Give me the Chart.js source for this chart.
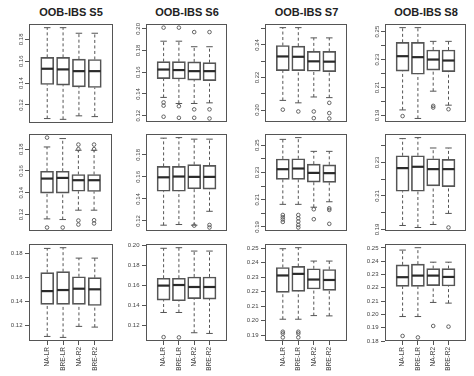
<!DOCTYPE html>
<html>
<head>
<meta charset="utf-8">
<script src="https://cdn.jsdelivr.net/npm/chart.js@4.4.1/dist/chart.umd.min.js"></script>
<style>
  body { margin: 0; background: #fff; width: 474px; height: 376px; overflow: hidden; position: relative; font-family: 'Liberation Sans', Arial, sans-serif; }
  canvas { position: absolute; }
  .ttl { position: absolute; top: 6px; font-weight: bold; font-size: 11px; color: #222; text-align: center; white-space: nowrap; }
</style>
</head>
<body>
<script>
const methods = ['NA-LR', 'BRE-LR', 'NA-R2', 'BRE-R2'];
const scenarios = ['OOB-IBS S5', 'OOB-IBS S6', 'OOB-IBS S7', 'OOB-IBS S8'];

// each box: [lower whisker, q1, median, q3, upper whisker]
const r1S5 = [[0.1075, 0.1387, 0.1531, 0.1635, 0.1907], [0.1068, 0.1381, 0.1525, 0.1635, 0.1907], [0.1100, 0.1365, 0.1509, 0.1619, 0.1856], [0.1093, 0.1359, 0.1509, 0.1616, 0.1856]];
const r1S5Out = [[], [], [], []];
const r1S6 = [[0.1368, 0.1541, 0.1625, 0.1698, 0.1886], [0.1312, 0.1538, 0.1620, 0.1698, 0.1886], [0.1312, 0.1528, 0.1610, 0.1695, 0.1835], [0.1318, 0.1522, 0.1610, 0.1688, 0.1835]];
const r1S6Out = [[0.2011, 0.1322, 0.1292, 0.1190], [0.2011, 0.1287, 0.1180], [0.1970, 0.1258, 0.1180], [0.1970, 0.1258, 0.1174]];
const r1S7 = [[0.2059, 0.2242, 0.2329, 0.2396, 0.2506], [0.2044, 0.2242, 0.2327, 0.2392, 0.2506], [0.2080, 0.2238, 0.2299, 0.2360, 0.2443], [0.2076, 0.2236, 0.2297, 0.2360, 0.2443]];
const r1S7Out = [[0.2002], [0.1991], [0.1991, 0.1950], [0.2044, 0.1981, 0.1948]];
const r1S8 = [[0.1940, 0.2217, 0.2324, 0.2423, 0.2528], [0.1879, 0.2195, 0.2317, 0.2423, 0.2528], [0.2074, 0.2224, 0.2300, 0.2368, 0.2430], [0.1974, 0.2214, 0.2293, 0.2368, 0.2430]];
const r1S8Out = [[0.1896], [], [0.1969, 0.1957], [0.1945]];

const r2S5 = [[0.1160, 0.1396, 0.1530, 0.1597, 0.1820], [0.1154, 0.1396, 0.1536, 0.1597, 0.1897], [0.1240, 0.1414, 0.1515, 0.1567, 0.1790], [0.1240, 0.1411, 0.1515, 0.1567, 0.1790]];
const r2S5Out = [[0.1906, 0.1081], [0.1081], [0.1842, 0.1800, 0.1145, 0.1108], [0.1842, 0.1800, 0.1148, 0.1118]];
const r2S6 = [[0.1162, 0.1470, 0.1596, 0.1695, 0.1951], [0.1168, 0.1470, 0.1603, 0.1695, 0.1956], [0.1162, 0.1492, 0.1600, 0.1711, 0.1942], [0.1288, 0.1489, 0.1600, 0.1704, 0.1942]];
const r2S6Out = [[], [], [0.1158], [0.1164, 0.1141]];
const r2S7 = [[0.2066, 0.2249, 0.2324, 0.2399, 0.2543], [0.2066, 0.2249, 0.2329, 0.2401, 0.2556], [0.2045, 0.2229, 0.2297, 0.2361, 0.2455], [0.2085, 0.2227, 0.2295, 0.2356, 0.2455]];
const r2S7Out = [[0.1988, 0.1971, 0.1955, 0.1937], [0.1988, 0.1964, 0.1940, 0.1915, 0.1896], [0.2030, 0.1957], [0.2037, 0.2025, 0.1923]];
const r2S8 = [[0.1924, 0.2128, 0.2266, 0.2340, 0.2442], [0.1912, 0.2128, 0.2274, 0.2340, 0.2448], [0.1930, 0.2160, 0.2260, 0.2322, 0.2386], [0.1996, 0.2156, 0.2260, 0.2318, 0.2386]];
const r2S8Out = [[], [], [], [0.1912]];

const r3S5 = [[0.1110, 0.1377, 0.1488, 0.1642, 0.1844], [0.1102, 0.1377, 0.1497, 0.1650, 0.1850], [0.1194, 0.1377, 0.1508, 0.1608, 0.1763], [0.1188, 0.1368, 0.1503, 0.1600, 0.1763]];
const r3S5Out = [[], [], [], []];
const r3S6 = [[0.1326, 0.1451, 0.1597, 0.1671, 0.1973], [0.1326, 0.1444, 0.1603, 0.1671, 0.1979], [0.1122, 0.1465, 0.1583, 0.1684, 0.1945], [0.1115, 0.1461, 0.1583, 0.1684, 0.1945]];
const r3S6Out = [[0.1078], [0.1075], [], []];
const r3S7 = [[0.2011, 0.2196, 0.2312, 0.2367, 0.2496], [0.2011, 0.2203, 0.2323, 0.2374, 0.2503], [0.2036, 0.2219, 0.2284, 0.2358, 0.2411], [0.2034, 0.2210, 0.2281, 0.2353, 0.2411]];
const r3S7Out = [[0.1925, 0.1913, 0.1886], [0.1925, 0.1913, 0.1886], [], []];
const r3S8 = [[0.1984, 0.2211, 0.2280, 0.2373, 0.2484], [0.1984, 0.2211, 0.2292, 0.2378, 0.2502], [0.2090, 0.2217, 0.2292, 0.2345, 0.2393], [0.2085, 0.2214, 0.2282, 0.2345, 0.2393]];
const r3S8Out = [[0.1838], [0.1827], [0.1913], [0.1908]];

// y tick values and their labels ('' = tick mark only)
const ticks12to18 = [0.12, 0.14, 0.16, 0.18];
const labs12to18 = ['0.12', '0.14', '0.16', '0.18'];
const ticks12to20 = [0.12, 0.14, 0.16, 0.18, 0.20];
const labs12to20 = ['0.12', '0.14', '0.16', '0.18', '0.20'];
const ticks20to25 = [0.20, 0.21, 0.22, 0.23, 0.24, 0.25];
const labs20to25 = ['0.20', '', '0.22', '', '0.24', ''];
const ticks19to25 = [0.19, 0.20, 0.21, 0.22, 0.23, 0.24, 0.25];
const labs19to25odd = ['0.19', '', '0.21', '', '0.23', '', '0.25'];
const labs19to25 = ['0.19', '0.20', '0.21', '0.22', '0.23', '0.24', '0.25'];
const ticks19to24 = [0.19, 0.20, 0.21, 0.22, 0.23, 0.24];
const labs19to24 = ['0.19', '', '0.21', '', '0.23', ''];
const ticks18to25 = [0.18, 0.19, 0.20, 0.21, 0.22, 0.23, 0.24, 0.25];
const labs18to25 = ['0.18', '0.19', '0.20', '0.21', '0.22', '0.23', '0.24', '0.25'];

const panels = [
  [[r1S5, r1S5Out, ticks12to18, labs12to18], [r1S6, r1S6Out, ticks12to20, labs12to20], [r1S7, r1S7Out, ticks20to25, labs20to25], [r1S8, r1S8Out, ticks19to25, labs19to25odd]],
  [[r2S5, r2S5Out, ticks12to18, labs12to18], [r2S6, r2S6Out, ticks12to18, labs12to18], [r2S7, r2S7Out, ticks19to25, labs19to25odd], [r2S8, r2S8Out, ticks19to24, labs19to24]],
  [[r3S5, r3S5Out, ticks12to18, labs12to18], [r3S6, r3S6Out, ticks12to20, labs12to20], [r3S7, r3S7Out, ticks19to25, labs19to25], [r3S8, r3S8Out, ticks18to25, labs18to25]]
];

// plot frames
const colLeft = [29, 146, 265, 385];
const colRight = [113, 228, 348, 467];
const rowTop = [24, 134, 243];
const rowBottom = [123, 232, 341];
const AXIS_W = 28, X_AXIS_H = 34, BOX_W = 13;
const LINE = '#555', MED = '#2a2a2a', TXT = '#444';

Chart.defaults.font.family = "'Liberation Sans', Arial, sans-serif";

function boxLayer(stats) {
  return {
    id: 'boxLayer',
    afterDatasetsDraw(chart) {
      const { ctx, chartArea: a } = chart;
      const x = chart.scales.x, y = chart.scales.y;
      const half = BOX_W / 2, cap = half / 2;
      ctx.save();
      stats.forEach((s, i) => {
        const cx = x.getPixelForValue(i);
        ctx.strokeStyle = LINE;
        ctx.lineWidth = 1;
        ctx.setLineDash([3, 2.5]);
        ctx.beginPath();
        ctx.moveTo(cx, y.getPixelForValue(s[0]));
        ctx.lineTo(cx, y.getPixelForValue(s[1]));
        ctx.moveTo(cx, y.getPixelForValue(s[3]));
        ctx.lineTo(cx, y.getPixelForValue(s[4]));
        ctx.stroke();
        ctx.setLineDash([]);
        ctx.beginPath();
        [s[0], s[4]].forEach(v => {
          const py = y.getPixelForValue(v);
          ctx.moveTo(cx - cap, py);
          ctx.lineTo(cx + cap, py);
        });
        ctx.stroke();
        const my = y.getPixelForValue(s[2]);
        ctx.strokeStyle = MED;
        ctx.lineWidth = 2.2;
        ctx.beginPath();
        ctx.moveTo(cx - half + 0.5, my);
        ctx.lineTo(cx + half - 0.5, my);
        ctx.stroke();
      });
      ctx.strokeStyle = LINE;
      ctx.lineWidth = 1;
      ctx.strokeRect(Math.round(a.left) + 0.5, Math.round(a.top) + 0.5, Math.round(a.width) - 1, Math.round(a.height) - 1);
      ctx.restore();
    }
  };
}

function makePanel(row, col, [stats, outs, tickVals, tickLabs]) {
  const last = row === 2;
  const L = colLeft[col], R = colRight[col], T = rowTop[row], B = rowBottom[row];
  const canvas = document.createElement('canvas');
  canvas.width = (R - L) + AXIS_W + 4;
  canvas.height = (B - T) + 5 + (last ? X_AXIS_H : 4);
  canvas.style.left = (L - AXIS_W) + 'px';
  canvas.style.top = (T - 5) + 'px';
  document.body.appendChild(canvas);

  // R-style axis range: data range widened by 4% on each side
  const all = stats.flat().concat(outs.flat());
  const lo = Math.min(...all), hi = Math.max(...all);
  const ext = (hi - lo) * 0.04;

  new Chart(canvas, {
    type: 'bar',
    data: {
      datasets: [
        {
          type: 'bar',
          data: stats.map((s, i) => ({ x: i, y: [s[1], s[3]] })),
          backgroundColor: 'rgba(0,0,0,0)',
          borderColor: LINE,
          borderWidth: 1,
          borderSkipped: false,
          barThickness: BOX_W
        },
        {
          type: 'scatter',
          data: outs.flatMap((o, i) => o.map(v => ({ x: i, y: v }))),
          pointRadius: 1.8,
          pointBorderWidth: 0.9,
          pointBorderColor: LINE,
          pointBackgroundColor: 'rgba(0,0,0,0)'
        }
      ]
    },
    options: {
      responsive: false,
      animation: false,
      layout: { padding: { left: 0, top: 5, right: 4, bottom: last ? 0 : 4 } },
      plugins: { legend: { display: false }, tooltip: { enabled: false } },
      scales: {
        x: {
          type: 'linear', min: -1.15, max: 4.15, offset: false, display: last,
          afterBuildTicks: s => { s.ticks = methods.map((m, i) => ({ value: i })); },
          afterFit: s => { s.height = last ? X_AXIS_H : 0; },
          grid: { offset: false, drawOnChartArea: false, tickLength: 4, color: LINE },
          border: { display: false },
          ticks: { autoSkip: false, minRotation: 90, maxRotation: 90, padding: 2, color: TXT, font: { size: 6.5 }, callback: v => methods[v] }
        },
        y: {
          min: lo - ext, max: hi + ext,
          afterBuildTicks: s => { s.ticks = tickVals.map(v => ({ value: v })); },
          afterFit: s => { s.width = AXIS_W; },
          grid: { drawOnChartArea: false, tickLength: 4, color: LINE },
          border: { display: false },
          ticks: last
            ? { autoSkip: false, crossAlign: 'near', padding: 2.5, color: TXT, font: { size: 6 }, callback: (v, i) => tickLabs[i] }
            : { autoSkip: false, minRotation: 90, maxRotation: 90, crossAlign: 'center', padding: -2.5, color: TXT, font: { size: 6 }, callback: (v, i) => tickLabs[i] }
        }
      }
    },
    plugins: [boxLayer(stats)]
  });
}

scenarios.forEach((name, c) => {
  const t = document.createElement('div');
  t.className = 'ttl';
  t.textContent = name;
  t.style.left = colLeft[c] + 'px';
  t.style.width = (colRight[c] - colLeft[c]) + 'px';
  document.body.appendChild(t);
});

panels.forEach((rowPanels, r) => rowPanels.forEach((p, c) => makePanel(r, c, p)));
</script>
</body>
</html>
